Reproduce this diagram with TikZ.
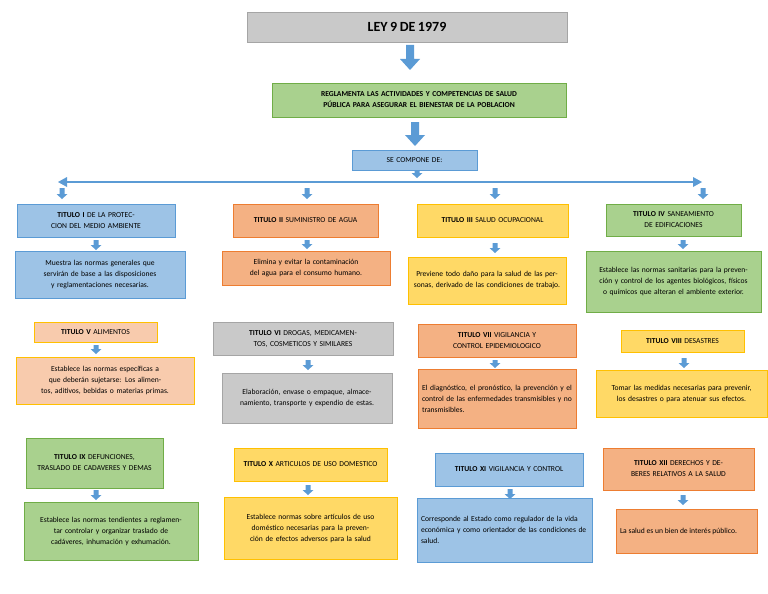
\documentclass[tikz,border=0pt]{standalone}
\usepackage{fontspec}
\setmainfont{Carlito}
\usetikzlibrary{calc}
\definecolor{bF}{HTML}{9DC3E6}\definecolor{bD}{HTML}{5B9BD5}
\definecolor{sF}{HTML}{F4B183}\definecolor{sD}{HTML}{ED7D31}
\definecolor{yF}{HTML}{FFD966}\definecolor{yD}{HTML}{FFC000}
\definecolor{gF}{HTML}{A9D18E}\definecolor{gD}{HTML}{70AD47}
\definecolor{kF}{HTML}{C9C9C9}\definecolor{kD}{HTML}{A5A5A5}
\definecolor{pF}{HTML}{F8CBAD}
\definecolor{arr}{HTML}{5B9BD5}
\tikzset{
 bx/.style={draw,line width=0.8pt,inner sep=2pt,font=\fontsize{7.6}{11}\selectfont,align=center},
 blue/.style={bx,fill=bF,draw=bD},
 sal/.style={bx,fill=sF,draw=sD},
 yel/.style={bx,fill=yF,draw=yD},
 grn/.style={bx,fill=gF,draw=gD},
 gry/.style={bx,fill=kF,draw=kD},
 pch/.style={bx,fill=pF,draw=yD},
 bar/.style={draw=none,fill=arr}
}
\newcommand{\bxx}[7]{\node[#6,minimum width={#4-#2},minimum height={#5-#3},text width={#4-#2-8}] (#1) at ({(#2+#4)/2},{(#3+#5)/2}) {#7};}
% down arrow x, ytop, ybottom, shaft half, head half, head length
\newcommand{\darr}[6]{\fill[arr] (#1-#4,#2) -- (#1+#4,#2) -- (#1+#4,#3-#6) -- (#1+#5,#3-#6) -- (#1,#3) -- (#1-#5,#3-#6) -- (#1-#4,#3-#6) -- cycle;}
\newcommand{\sarr}[3]{\darr{#1}{#2}{#3}{2.5}{5.5}{5}}
\begin{document}
\begin{tikzpicture}[x=1pt,y=-1pt]
\useasboundingbox (0,0) rectangle (768,594);
\fill[white] (0,0) rectangle (768,594);
\bxx{ley}{247}{12}{567}{42}{gry}{\fontsize{14}{16}\selectfont\bfseries LEY 9 DE 1979}
\darr{410}{45}{70}{4}{10}{11}
\bxx{reg}{272}{83}{566}{117}{grn}{\bfseries REGLAMENTA LAS ACTIVIDADES Y COMPETENCIAS DE SALUD PÚBLICA PARA ASEGURAR EL BIENESTAR DE LA POBLACION}
\darr{415}{122}{146}{4}{10}{11}
\bxx{comp}{352}{150}{477}{170}{blue}{SE COMPONE DE:}
\sarr{417}{170}{178}
\draw[arr,line width=2.5pt] (66,182) -- (694,182);
\fill[arr] (58,182) -- (67,177) -- (67,187) -- cycle;
\fill[arr] (702,182) -- (693,177) -- (693,187) -- cycle;
\sarr{62}{188}{199}\sarr{307}{188}{199}\sarr{495}{188}{199}\sarr{703}{188}{199}
% row 1
\bxx{t1}{17}{204}{175}{237}{blue}{\textbf{TITULO I} DE LA PROTECCION DEL MEDIO AMBIENTE}
\bxx{t2}{233}{204}{378}{237}{sal}{\textbf{TITULO II} SUMINISTRO DE AGUA}
\bxx{t3}{417}{204}{568}{237}{yel}{\textbf{TITULO III} SALUD OCUPACIONAL}
\bxx{t4}{606}{204}{741}{236}{grn}{\textbf{TITULO IV} SANEAMIENTO DE EDIFICACIONES}
\sarr{96}{240}{250}\sarr{307}{240}{249}\sarr{495}{243}{253}\sarr{683}{240}{249}
\bxx{d1}{15}{251}{185}{298}{blue}{Muestra las normas generales que servirán de base a las disposiciones y reglamentaciones necesarias.}
\bxx{d2}{222}{251}{390}{285}{sal}{Elimina y evitar la contaminación del agua para el consumo humano.}
\bxx{d3}{408}{257}{566}{304}{yel}{Previene todo daño para la salud de las personas, derivado de las condiciones de trabajo.}
\bxx{d4}{586}{251}{761}{312}{grn}{Establece las normas sanitarias para la prevención y control de los agentes biológicos, físicos o químicos que alteran el ambiente exterior.}
% row 2
\bxx{t5}{34}{322}{157}{342}{pch}{\textbf{TITULO V} ALIMENTOS}
\bxx{t6}{213}{322}{393}{355}{gry}{\textbf{TITULO VI} DROGAS, MEDICAMENTOS, COSMETICOS Y SIMILARES}
\bxx{t7}{418}{324}{576}{357}{sal}{\textbf{TITULO VII} VIGILANCIA Y CONTROL EPIDEMIOLOGICO}
\bxx{t8}{621}{330}{744}{352}{yel}{\textbf{TITULO VIII} DESASTRES}
\sarr{96}{345}{354}\sarr{308}{360}{370}\sarr{495}{360}{368}\sarr{684}{358}{368}
\bxx{d5}{16}{357}{194}{404}{pch}{Establece las normas específicas a que deberán sujetarse: Los alimentos, aditivos, bebidas o materias primas.}
\bxx{d6}{222}{373}{392}{423}{gry}{Elaboración, envase o empaque, almacenamiento, transporte y expendio de estas.}
\bxx{d7}{418}{369}{576}{428}{sal,align=justify}{El diagnóstico, el pronóstico, la prevención y el control de las enfermedades transmisibles y no transmisibles.}
\bxx{d8}{596}{370}{767}{417}{yel}{Tomar las medidas necesarias para prevenir, los desastres o para atenuar sus efectos.}
% row 3
\bxx{t9}{26}{438}{163}{488}{grn}{\textbf{TITULO IX} DEFUNCIONES, TRASLADO DE CADAVERES Y DEMAS}
\bxx{t10}{234}{448}{387}{481}{yel}{\textbf{TITULO X} ARTICULOS DE USO DOMESTICO}
\bxx{t11}{435}{453}{583}{486}{blue}{\textbf{TITULO XI} VIGILANCIA Y CONTROL}
\bxx{t12}{603}{448}{754}{490}{sal}{\textbf{TITULO XII} DERECHOS Y DEBERES RELATIVOS A LA SALUD}
\sarr{96}{490}{500}\sarr{308}{485}{495}\sarr{510}{489}{499}\sarr{683}{495}{505}
\bxx{d9}{24}{502}{198}{560}{grn}{Establece las normas tendientes a reglamentar controlar y organizar traslado de cadáveres, inhumación y exhumación.}
\bxx{d10}{224}{497}{397}{559}{yel}{Establece normas sobre artículos de uso doméstico necesarias para la prevención de efectos adversos para la salud}
\bxx{d11}{417}{498}{592}{562}{blue,align=left}{Corresponde al Estado como regulador de la vida económica y como orientador de las condiciones de salud.}
\bxx{d12}{616}{509}{757}{553}{sal,align=justify}{La salud es un bien de interés público.}
\end{tikzpicture}
\end{document}
